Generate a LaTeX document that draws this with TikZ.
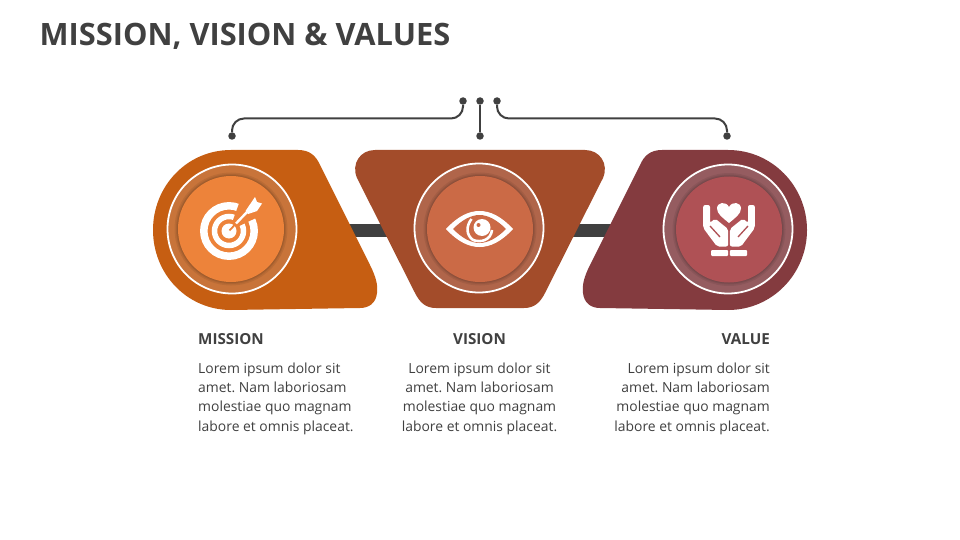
\documentclass[tikz,border=0pt]{standalone}
\usepackage{fontspec}
\setmainfont{Open Sans}
\usetikzlibrary{calc}
\definecolor{slate}{HTML}{404040}
\definecolor{missionback}{HTML}{C65E12}
\definecolor{missionring}{HTML}{C8743A}
\definecolor{missiondisc}{HTML}{ED833A}
\definecolor{visionback}{HTML}{A34C2A}
\definecolor{visionring}{HTML}{B0654A}
\definecolor{visiondisc}{HTML}{CB6A46}
\definecolor{valueback}{HTML}{843B3F}
\definecolor{valuering}{HTML}{955C60}
\definecolor{valuedisc}{HTML}{AF5155}
\tikzset{
  dot/.style={circle, fill=slate, inner sep=0pt, minimum size=7.5pt},
  wire/.style={draw=slate, line width=2pt, rounded corners=12pt},
  ring/.style={circle, draw=white, line width=1.8pt, fill=#1, inner sep=0pt, minimum size=129pt},
  disc/.style={circle, fill=#1, inner sep=0pt, minimum size=106pt},
  halo/.style={circle, fill=black, fill opacity=0.07, inner sep=0pt, minimum size=#1},
  heading/.style={font=\fontsize{15.2}{18}\selectfont\bfseries, text=slate, inner sep=0pt},
  body/.style={font=\fontsize{13.9}{19.3}\selectfont\frenchspacing, text=slate, inner sep=0pt}
}
\begin{document}
\begin{tikzpicture}[x=1pt, y=-1pt]
  \useasboundingbox (0,0) rectangle (960,540);
  \node[font=\fontsize{30.8}{36}\selectfont\bfseries, text=slate, anchor=base west, inner sep=0pt] (title) at (39.5,46) {MISSION, VISION \& VALUES};

  % connecting bar
  \fill[slate] (340,223.5) rectangle (620,236.5);

  % back shapes
  \fill[missionback] (231,150) -- (298,150) .. controls (310,150) and (316,156) .. (320,165)
    -- (370,265) .. controls (376,277) and (378,285) .. (377,293)
    .. controls (376,303) and (369,308) .. (360,308)
    -- (231,310) .. controls (187,310) and (153,274) .. (153,230)
    .. controls (153,186) and (187,150) .. (231,150) -- cycle;
  \fill[visionback] (375,150) -- (585,150) .. controls (600,150) and (609,164) .. (603,178)
    -- (545,293) .. controls (540,303) and (534,308) .. (524,308)
    -- (436,308) .. controls (426,308) and (420,303) .. (415,293)
    -- (357,178) .. controls (351,164) and (360,150) .. (375,150) -- cycle;
  \fill[valueback] (728,150) -- (662,150) .. controls (650,150) and (644,156) .. (640,165)
    -- (590,265) .. controls (584,277) and (582,285) .. (583,293)
    .. controls (584,303) and (591,308) .. (600,308)
    -- (728,310) .. controls (772,310) and (807,274) .. (807,230)
    .. controls (807,186) and (772,150) .. (728,150) -- cycle;

  % rings and discs
  \node[ring=missionring] (missionrim) at (232,229) {};
  \node[ring=visionring] (visionrim) at (479,228) {};
  \node[ring=valuering] (valuerim) at (728,229) {};
  \foreach \cx/\cy in {231/229, 480/229, 729/229.5} {
    \node[halo=113pt] at (\cx,\cy) {};
    \node[halo=110pt] at (\cx,\cy) {};
    \node[halo=108pt] at (\cx,\cy) {};
  }
  \node[disc=missiondisc] (missioncore) at (231,229) {};
  \node[disc=visiondisc] (visioncore) at (480,229) {};
  \node[disc=valuedisc] (valuecore) at (729,229.5) {};

  % target icon
  \draw[white, line width=7.5pt] (229,231) circle (25.2);
  \draw[white, line width=5.5pt] (229,231) circle (14.5);
  \fill[missiondisc] (229,231) -- (260,216) -- (252,200) -- (241,198) -- cycle;
  \fill[white] (229,231) circle (7.5);
  \draw[missiondisc, line width=1.8pt] (229.5,230.5) -- (242,217);
  \draw[white, line width=2.4pt] (236,223.5) -- (248,211);
  \fill[white] (245.5,211) -- (255,197) -- (257,202) -- (262,203.5) -- (257,211) -- (248,214) -- cycle;

  % eye icon
  \fill[white] (446,229) .. controls (458,216) and (469,211) .. (479.5,211)
    .. controls (490,211) and (501,216) .. (513,229)
    .. controls (501,242) and (490,247) .. (479.5,247)
    .. controls (469,247) and (458,242) .. (446,229) -- cycle;
  \fill[visiondisc] (453,229) .. controls (462,220) and (471,215) .. (479.5,215)
    .. controls (488,215) and (497,220) .. (506,229)
    .. controls (497,238) and (488,243) .. (479.5,243)
    .. controls (471,243) and (462,238) .. (453,229) -- cycle;
  \draw[white, line width=2.6pt] (471.5,219) .. controls (466,226) and (466,235) .. (473,240)
    .. controls (481,243) and (491,240) .. (492,230);
  \fill[white] (482,227.5) circle (8.5);
  \fill[visiondisc] (478.5,225) circle (2);

  % hands icon
  \fill[white] (729,223) .. controls (723,218) and (717,214) .. (717,208.5)
    .. controls (717,202) and (726,201) .. (729,207)
    .. controls (732,201) and (741,202) .. (741,208.5)
    .. controls (741,214) and (735,218) .. (729,223) -- cycle;
  \foreach \s in {-1,1} {
    \begin{scope}[shift={(729,0)}, xscale=\s]
      \fill[white, rounded corners=1pt] (0.9,250) rectangle (18,256);
      \fill[white, rounded corners=2pt] (19,205) -- (25.8,205) -- (25.8,228) -- (12,246.5) -- (0.9,246.5) -- (0.9,229) -- (14,218.5) -- (19,223) -- cycle;
      \draw[valuedisc, line width=1.3pt] (19,226) -- (9,237);
    \end{scope}
  }

  % connectors
  \node[dot] (missionfoot) at (232,136) {};
  \node[dot] (visionfoot) at (480,136) {};
  \node[dot] (valuefoot) at (727,136) {};
  \node[dot] (missionhead) at (463,101) {};
  \node[dot] (visionhead) at (480,101) {};
  \node[dot] (valuehead) at (497,101) {};
  \draw[wire] (missionfoot) |- ($(missionfoot)!.5!(missionhead)$) -| (missionhead);
  \draw[wire] (visionhead) -- (visionfoot);
  \draw[wire] (valuefoot) |- ($(valuefoot)!.5!(valuehead)$) -| (valuehead);

  % texts
  \node[heading, anchor=base west] (missionname) at (198,344) {MISSION};
  \node[heading, anchor=base] (visionname) at (479.5,344) {VISION};
  \node[heading, anchor=base east] (valuename) at (770,344) {VALUE};
  \node[body, anchor=north west, align=left] (missiontext) at (198,362.5) {Lorem ipsum dolor sit\\amet. Nam laboriosam\\molestiae quo magnam\\labore et omnis placeat.};
  \node[body, anchor=north, align=center] (visiontext) at (479.5,362.5) {Lorem ipsum dolor sit\\amet. Nam laboriosam\\molestiae quo magnam\\labore et omnis placeat.};
  \node[body, anchor=north east, align=right] (valuetext) at (770,362.5) {Lorem ipsum dolor sit\\amet. Nam laboriosam\\molestiae quo magnam\\labore et omnis placeat.};
\end{tikzpicture}
\end{document}
